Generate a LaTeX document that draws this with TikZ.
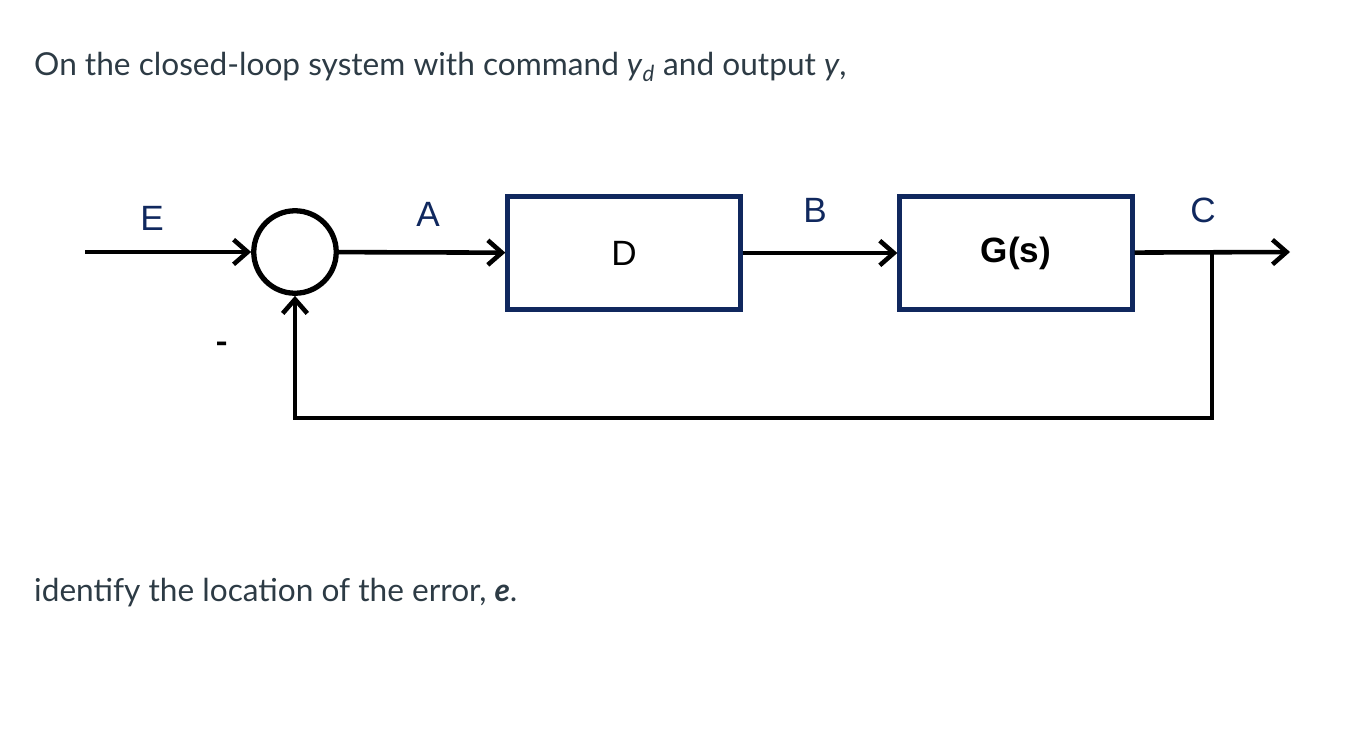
\documentclass[tikz,border=0pt]{standalone}
\usepackage{fontspec}
\setmainfont{Lato}
\newfontfamily\diagfont{Liberation Sans}
\usetikzlibrary{arrows, arrows.meta, positioning}
\definecolor{boxblue}{HTML}{10285E}
\definecolor{txtgray}{HTML}{2D3B45}
\begin{document}
\begin{tikzpicture}[x=0.02cm, y=-0.02cm, >={Straight Barb[length=8pt, width=14pt, line width=2.6pt]},
    sig/.style={line width=2.6pt, ->},
    blk/.style={draw=boxblue, line width=2.8pt, minimum width=4.65cm, minimum height=2.25cm, font=\diagfont\fontsize{20}{20}\selectfont},
    lbl/.style={font=\diagfont\fontsize{20}{20}\selectfont, text=boxblue}]
    \useasboundingbox (0,0) rectangle (1348,730);

    \node[anchor=west, text=txtgray, font=\fontsize{18}{22}\selectfont] (question) at (28,67) {On the closed-loop system with command \textit{y}\textsubscript{\textit{d}} and output \textit{y},};
    \node[anchor=west, text=txtgray, font=\fontsize{18}{22}\selectfont] (task) at (28,593) {identify the location of the error, \textbf{\textit{e}}.};

    \node[circle, draw, line width=3pt, minimum size=1.65cm] (sum) at (295,252) {};
    \node[blk] (D) at (624,253) {D};
    \node[blk] (G) at (1016,253) {\textbf{G(s)}};
    \coordinate (in) at (85,252);
    \coordinate (out) at (1290,252);
    \coordinate (tap) at (1212,252);
    \coordinate (low) at (1212,418);

    \node[lbl] (E) at (152,218) {E};
    \node[lbl] (A) at (428,214) {A};
    \node[lbl] (B) at (815,210) {B};
    \node[lbl] (C) at (1203,210) {C};
    \node[font=\bfseries\fontsize{20}{20}\selectfont] (minus) at (222,348) {-};

    \draw[sig] (in) -- (sum);
    \draw[sig] (sum) -- (D);
    \draw[sig] (D) -- (G);
    \draw[sig] (G) -- (out);
    \draw[sig] (tap) -- (low) -| (sum.south);
\end{tikzpicture}
\end{document}
